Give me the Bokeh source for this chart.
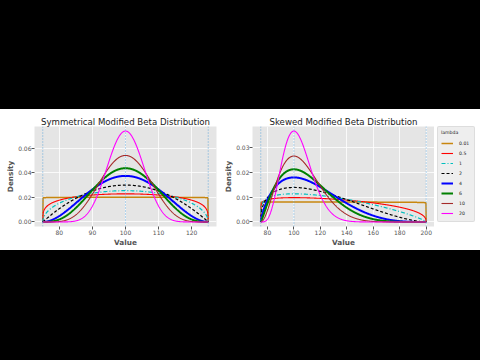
import math
import numpy as np
from bokeh.plotting import figure
from bokeh.layouts import row
from bokeh.models import Range1d, FixedTicker, PrintfTickFormatter, Span, Legend, LegendItem
from bokeh.embed import file_html
from bokeh.resources import INLINE

# ---- data (parameters) ----
lambdas = [0.01, 0.5, 1, 2, 4, 6, 10, 20]
lambda_labels = ["0.01", "0.5", "1", "2", "4", "6", "10", "20"]
sym_bounds = [75, 100, 125]      # min, mode, max
skew_bounds = [75, 100, 200]     # min, mode, max
sym_xticks = [80, 90, 100, 110, 120]
sym_yticks = [0.0, 0.02, 0.04, 0.06]
skew_xticks = [80, 100, 120, 140, 160, 180, 200]
skew_yticks = [0.0, 0.01, 0.02, 0.03]

# ---- styles ----
colors = ["#c8860e", "#ff0000", "#00bfbf", "#000000", "#0000ff", "#008000", "#a52a2a", "#ff00ff"]
dashes = ["solid", "solid", "4 2 1 2", "3 2", "solid", "solid", "solid", "solid"]
widths = [1.5, 1.1, 1.2, 1.2, 2.0, 2.0, 1.1, 1.1]
FONT = "DejaVu Sans"
BG = "#E5E5E5"
GREY = "#555555"


def pert_pdf(x, a, m, b, lam):
    al = 1 + lam * (m - a) / (b - a)
    be = 1 + lam * (b - m) / (b - a)
    z = (x - a) / (b - a)
    log_beta = math.lgamma(al) + math.lgamma(be) - math.lgamma(al + be)
    return z ** (al - 1) * (1 - z) ** (be - 1) / math.exp(log_beta) / (b - a)


def make_plot(title, bounds, xticks, yticks, width, bl, br):
    a, m, b = bounds
    xs = np.linspace(a, b, 600)
    curves = [pert_pdf(xs, a, m, b, lam) for lam in lambdas]
    ymax = max(float(c.max()) for c in curves)
    pad_x = 0.05 * (b - a)
    p = figure(width=width, height=141, output_backend="svg", toolbar_location=None,
               x_range=Range1d(a - pad_x, b + pad_x),
               y_range=Range1d(-0.05 * ymax, 1.05 * ymax),
               min_border_left=bl, min_border_right=br, min_border_top=12, min_border_bottom=24)
    p.background_fill_color = BG
    p.border_fill_color = "white"
    p.outline_line_color = None
    p.title.text = title
    p.title.text_font = FONT
    p.title.text_font_size = "8.6px"
    p.title.text_font_style = "normal"
    p.title.text_color = "#1a1a1a"
    p.title.align = "center"
    p.title.standoff = 0
    p.title.offset = 0
    p.grid.grid_line_color = "white"
    p.grid.grid_line_width = 0.8
    p.xaxis.ticker = FixedTicker(ticks=xticks)
    p.yaxis.ticker = FixedTicker(ticks=yticks)
    p.yaxis.formatter = PrintfTickFormatter(format="%.2f")
    for ax in (p.xaxis[0], p.yaxis[0]):
        ax.axis_line_color = None
        ax.major_tick_line_color = GREY
        ax.major_tick_out = 3
        ax.major_tick_in = 0
        ax.minor_tick_line_color = None
        ax.major_label_text_font = FONT
        ax.major_label_text_font_size = "6px"
        ax.major_label_text_color = GREY
        ax.major_label_standoff = 0
        ax.axis_label_text_font = FONT
        ax.axis_label_text_font_size = "7.3px"
        ax.axis_label_text_font_style = "bold"
        ax.axis_label_text_color = GREY
        ax.axis_label_standoff = 0
    p.xaxis.axis_label = "Value"
    p.yaxis.axis_label = "Density"

    for c, col, dash, w in zip(curves, colors, dashes, widths):
        p.line(xs, c, line_color=col, line_dash=dash, line_width=w)
    for v in bounds:
        p.add_layout(Span(location=v, dimension="height", line_color="#5aa5dc",
                          line_dash="1 2", line_width=0.9))
    return p


def make_legend_panel(width):
    q = figure(width=width, height=141, output_backend="svg", toolbar_location=None,
               x_range=Range1d(0, 1), y_range=Range1d(0, 1),
               x_axis_location=None, y_axis_location=None,
               min_border_left=3, min_border_right=0, min_border_top=17, min_border_bottom=0)
    q.background_fill_color = "white"
    q.border_fill_color = "white"
    q.outline_line_color = None
    q.grid.visible = False
    items = []
    for lab, col, dash, w in zip(lambda_labels, colors, dashes, widths):
        # proxy line (outside the visible range) that only carries the legend style
        r = q.line(x=[-5], y=[-5], line_color=col, line_dash=dash, line_width=w)
        items.append(LegendItem(label=lab, renderers=[r]))
    lg = Legend(items=items, location="top_left", title="lambda")
    lg.title_text_font = FONT
    lg.title_text_font_size = "4.6px"
    lg.title_text_font_style = "normal"
    lg.title_text_color = "#222222"
    lg.title_standoff = 3
    lg.label_text_font = FONT
    lg.label_text_font_size = "4.6px"
    lg.label_text_color = "#222222"
    lg.glyph_width = 12
    lg.glyph_height = 10
    lg.label_height = 10
    lg.label_width = 12
    lg.label_standoff = 6
    lg.spacing = 0
    lg.padding = 3
    lg.margin = 0
    lg.background_fill_color = "#eeeeee"
    lg.background_fill_alpha = 1.0
    lg.border_line_color = "#cccccc"
    lg.border_line_width = 0.8
    lg.border_radius = 2
    q.add_layout(lg, "center")
    return q


p1 = make_plot("Symmetrical Modified Beta Distribution", sym_bounds, sym_xticks, sym_yticks,
               219, 34, 3)
p2 = make_plot("Skewed Modified Beta Distribution", skew_bounds, skew_xticks, skew_yticks,
               215, 33, 0)
p3 = make_legend_panel(46)

layout = row(p1, p2, p3, spacing=0)

html = file_html(layout, INLINE)
css = ("<style>html{background:#000000;margin:0;padding:0;}"
       "body{margin:109px 0 0 0;padding:0;background:#ffffff;width:480px;height:141px;overflow:hidden;}"
       "</style></head>")
html = html.replace("</head>", css, 1)
open("out.html", "w").write(html)
